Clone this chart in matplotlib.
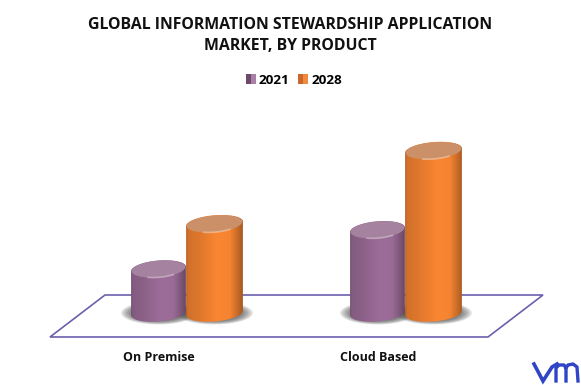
#!/usr/bin/env python3
"""Global information stewardship application market, by product."""
import numpy as np
import matplotlib; matplotlib.use("Agg")
import matplotlib.pyplot as plt
from matplotlib.colors import to_rgb
from matplotlib.patches import Ellipse, PathPatch, Polygon
from matplotlib.path import Path
from matplotlib.lines import Line2D

categories = ["On Premise", "Cloud Based"]
years = ["2021", "2028"]
values_2021 = [1.1, 2.08]
values_2028 = [2.23, 4.06]
colors = {"2021": "#9d6d99", "2028": "#fa8632"}
caps = {"2021": "#a5829f", "2028": "#cc9068"}

W, H = 581, 385
FLOOR_PX = 337      # front edge of the floor
BASE_PX = 313       # value 0, centre of the bottom ellipse
PX_X, PX_Y = 219.0, 40.0   # pixels per category / per value
CAT0_PX = 159

plt.rcParams["font.family"] = ["Open Sans", "DejaVu Sans"]
fig = plt.figure(figsize=(W / 100, H / 100), dpi=100)
ax = fig.add_axes([0, (H - FLOOR_PX) / H, 1, FLOOR_PX / H])
ax.set_xlim(-CAT0_PX / PX_X, (W - CAT0_PX) / PX_X)
ax.set_ylim((BASE_PX - FLOOR_PX) / PX_Y, BASE_PX / PX_Y)
ax.patch.set_alpha(0)
for s in ax.spines.values():
    s.set_visible(False)
ax.set_yticks([])
ax.set_xticks(range(len(categories)))
ax.set_xticklabels(categories, fontsize=9, fontweight="bold", color="#111111")
ax.tick_params(axis="x", length=0, pad=10.2)


def dx(px):
    return px / PX_X


def dy(px):
    return px / PX_Y


def to_x(px):
    return (px - CAT0_PX) / PX_X


def to_y(py):
    return (BASE_PX - py) / PX_Y


# floor, drawn as a parallelogram behind the bars
floor = [(105, 295), (543, 295), (488, 337), (50, 337)]
ax.add_patch(Polygon([(to_x(a), to_y(b)) for a, b in floor], closed=True, fc="none",
                     ec="#6a60ad", lw=1.2, clip_on=False, zorder=1))


def ell(cx, y, a, b, tilt, t):
    # tilted ellipse points, in pixel-sized offsets and then data units
    ex, ey = a * np.cos(t), b * np.sin(t)
    c, s = np.cos(tilt), np.sin(tilt)
    return cx + dx(ex * c - ey * s), y + dy(ex * s + ey * c)


def cylinder(x, val, half_px, col, cap, z):
    tilt = np.radians(5)
    b = 8.5
    rgb = np.array(to_rgb(col))
    # shadow on the floor
    for k in np.linspace(1.0, 0.7, 8):
        ax.add_patch(Ellipse((x, dy(0)), 2 * dx(half_px + 10) * k, 2 * dy(b + 3) * k,
                             fc="#444444", ec="none", alpha=.13, zorder=2))
    # body outline
    t = np.linspace(0, np.pi, 60)
    tx, ty = ell(x, val, half_px, b, tilt, t)
    bx, by = ell(x, 0, half_px, b, tilt, t + np.pi)
    verts = np.r_[np.c_[tx, ty], np.c_[bx, by]]
    body = Path(np.r_[verts, verts[:1]], closed=True)
    # horizontal shading across the body
    u = np.linspace(-1, 1, 120)
    shade = np.interp(u, [-1, -.94, -.6, .1, .55, .85, 1], [.72, .84, .88, 1.0, .98, .78, .66])
    img = np.clip(shade[None, :, None] * rgb[None, None, :], 0, 1)
    im = ax.imshow(img, extent=(x - dx(half_px), x + dx(half_px), -dy(b + 2), val + dy(b + 2)),
                   aspect="auto", zorder=z, interpolation="bilinear")
    im.set_clip_path(PathPatch(body, transform=ax.transData))
    # top cap
    t = np.linspace(0, 2 * np.pi, 100)
    cx, cy = ell(x, val, half_px * .98, b * .98, tilt, t)
    ax.fill(cx, cy, color=cap, lw=0, zorder=z + .1)
    # rim highlight
    t = np.linspace(np.pi * 1.35, np.pi * 1.7, 30)
    hx, hy = ell(x, val, half_px * .9, b * .98, tilt, t)
    ax.plot(hx, hy, color="white", alpha=.35, lw=1.2, solid_capstyle="round", zorder=z + .2)


half = {"2021": 27.5, "2028": 28.5}
shift = {"2021": dx(-.5), "2028": dx(55.5)}
for i in range(len(categories)):
    cylinder(i + shift["2021"], values_2021[i], half["2021"], colors["2021"], caps["2021"], 4)
    cylinder(i + shift["2028"], values_2028[i], half["2028"], colors["2028"], caps["2028"], 5)

# title
fig.text(.499, 1 - 35.5 / H, "GLOBAL INFORMATION STEWARDSHIP APPLICATION\nMARKET, BY PRODUCT",
         ha="center", va="center", fontsize=11.4, fontweight="bold", color="#111111", linespacing=1.42)

# legend
handles = [Line2D([], [], ls="none", marker="s", ms=6.5, mfc="#6d4a6b", markerfacecoloralt="#a87fa6",
                  fillstyle="left", mec="none", mew=0),
           Line2D([], [], ls="none", marker="s", ms=6.5, mfc="#c9682a", markerfacecoloralt="#f08a3e",
                  fillstyle="left", mec="none", mew=0)]
fig.legend(handles, years, loc="center", bbox_to_anchor=(293 / W, 1 - 80 / H), ncol=2, frameon=False,
           prop={"size": 9.7, "weight": "bold"}, handletextpad=.1, columnspacing=.5, handlelength=1)

# logo
logo = fig.add_axes([0, 0, 1, 1], zorder=10)
logo.set_xlim(0, W); logo.set_ylim(H, 0); logo.axis("off")
logo.plot([534, 543, 552, 557], [364, 381, 367, 364], color="#2f45c5", lw=2.6, solid_joinstyle="miter")
logo.plot([556, 556, 559, 564, 566, 566], [381, 368, 365, 365, 368, 381], color="#2f45c5", lw=2.4,
          solid_joinstyle="round")
logo.plot([566, 568, 573, 577, 578], [368, 365, 364, 367, 381], color="#2f45c5", lw=2.4,
          solid_joinstyle="round")

fig.savefig("out.png", dpi=100)
